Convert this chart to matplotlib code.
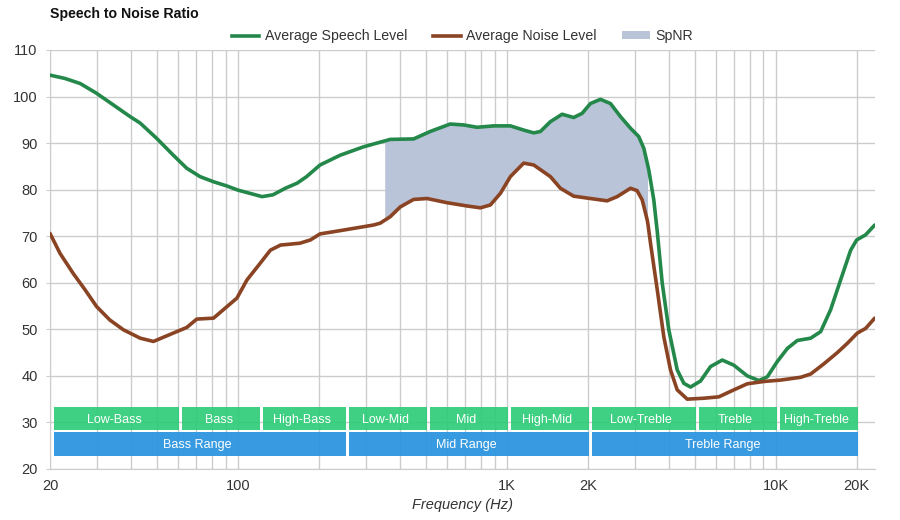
import numpy as np
import matplotlib
matplotlib.use("Agg")
import matplotlib.pyplot as plt
from matplotlib.lines import Line2D
from matplotlib.patches import Patch
from matplotlib.ticker import FixedLocator, NullFormatter

plt.rcParams['font.family'] = ['Liberation Sans', 'DejaVu Sans']

# speech level (Hz, dB)
speech_f = [20, 22.7, 25.9, 29.8, 34.4, 39.7, 43.3, 49.9, 57.5, 64.5, 72.3, 81.1, 90.9,
            100, 111, 123, 135, 150, 166, 180, 202, 240, 293, 338, 353, 368.6, 450,
            519, 616, 691, 775, 893, 1031, 1155, 1259, 1333, 1452, 1605, 1773, 1906,
            2046, 2229, 2429, 2646, 2883, 3095, 3231, 3350, 3373, 3520, 3626, 3784,
            4003, 4301, 4553, 4822, 5253, 5722, 6326, 6986, 7838, 8658, 9305, 10140,
            11050, 12030, 13490, 14690, 16000, 17430, 19000, 20000, 21600, 23340]
speech_db = [104.6, 103.9, 102.8, 100.7, 98.2, 95.7, 94.3, 91.0, 87.4, 84.6, 82.8, 81.7, 80.8,
             79.9, 79.2, 78.5, 78.9, 80.3, 81.4, 82.8, 85.3, 87.4, 89.2, 90.2, 90.5, 90.8, 90.9,
             92.5, 94.1, 93.9, 93.4, 93.7, 93.7, 92.8, 92.2, 92.5, 94.6, 96.2, 95.5, 96.4,
             98.5, 99.4, 98.5, 95.7, 93.2, 91.4, 88.9, 85.0, 84.2, 77.8, 71.0, 59.9,
             49.9, 41.3, 38.4, 37.6, 38.9, 42.0, 43.4, 42.3, 40.0, 39.0, 39.8, 43.1,
             45.9, 47.6, 48.1, 49.5, 54.2, 60.6, 67.0, 69.2, 70.3, 72.4]

# noise level
noise_f = [20, 21.8, 24.4, 27.0, 29.8, 33.4, 37.5, 43.3, 48.5, 57.5, 64.5, 70.3, 81.1,
           99.1, 108, 121, 132, 144, 170, 186, 202, 240, 319, 338, 353, 368.6, 401.6,
           450, 505, 599, 711, 797, 868, 946, 1031, 1155, 1259, 1333, 1452, 1582, 1773,
           2046, 2360, 2572, 2883, 3051, 3187, 3327, 3350, 3422, 3626, 3835, 4061, 4301,
           4688, 5403, 6143, 6986, 7838, 9036, 10430, 12380, 13490, 15110, 16950, 18470,
           20120, 21600, 23340]
noise_db = [70.6, 66.3, 62.0, 58.5, 54.9, 52.0, 49.9, 48.1, 47.4, 49.2, 50.4, 52.2, 52.4,
            56.7, 60.6, 64.2, 67.0, 68.1, 68.5, 69.2, 70.5, 71.2, 72.4, 72.8, 73.5, 74.2, 76.3,
            77.9, 78.1, 77.2, 76.5, 76.1, 76.7, 79.2, 82.8, 85.7, 85.3, 84.3, 82.8, 80.3, 78.6,
            78.1, 77.6, 78.5, 80.3, 79.8, 77.8, 73.5, 72.5, 68.5, 58.5, 48.4, 41.3, 37.0,
            35.0, 35.2, 35.5, 37.0, 38.3, 38.8, 39.1, 39.7, 40.4, 42.6, 45.0, 47.0,
            49.2, 50.2, 52.4]

spnr_range = (353, 3350)

bands = ['Low-Bass', 'Bass', 'High-Bass', 'Low-Mid', 'Mid', 'High-Mid',
         'Low-Treble', 'Treble', 'High-Treble']
band_edges = [20, 60, 120, 250, 500, 1000, 2000, 5000, 10000, 20000]
ranges = ['Bass Range', 'Mid Range', 'Treble Range']
range_edges = [20, 250, 2000, 20000]

xtick_vals = [20, 100, 1000, 2000, 10000, 20000]
xtick_labels = ['20', '100', '1K', '2K', '10K', '20K']
yticks = list(range(20, 111, 10))

GREEN = '#23884a'
BROWN = '#8a4424'
FILL = '#b9c4d9'
BAND_G = '#2ecc78'
BAND_B = '#2d96e0'
GRID = '#cccccc'

fig = plt.figure(figsize=(9, 5.2), dpi=100)
ax = fig.add_axes([50/900, 1 - 469/520, 825/900, 419/520])
ax.set_xscale('log')
ax.set_xlim(20, 23400)
ax.set_ylim(20, 110)

# grid lines at every 1-9 multiple up to 20K
minor = [m * 10**e for e in range(1, 5) for m in range(1, 10) if 20 <= m * 10**e <= 20000]
ax.xaxis.set_major_locator(FixedLocator(xtick_vals))
ax.set_xticklabels(xtick_labels)
ax.xaxis.set_minor_locator(FixedLocator(minor))
ax.xaxis.set_minor_formatter(NullFormatter())
ax.set_yticks(yticks)
ax.grid(True, which='both', axis='x', color=GRID, lw=1)
ax.grid(True, axis='y', color=GRID, lw=1)
ax.set_axisbelow(True)
for s in ['top', 'right']:
    ax.spines[s].set_visible(False)
for s in ['left', 'bottom']:
    ax.spines[s].set_color(GRID)
ax.tick_params(axis='both', which='both', length=0, labelsize=10.5, colors='#333333', pad=7)
ax.tick_params(axis='y', length=3, color=GRID, pad=6)

# SpNR fill polygon built from the data points in range
sf = np.array(speech_f); sd = np.array(speech_db)
nf = np.array(noise_f); nd = np.array(noise_db)
ms = (sf >= spnr_range[0]) & (sf <= spnr_range[1])
mn = (nf >= spnr_range[0]) & (nf <= spnr_range[1])
px = np.concatenate([sf[ms], nf[mn][::-1]])
py = np.concatenate([sd[ms], nd[mn][::-1]])
ax.fill(px, py, color=FILL, lw=0, zorder=2)

# frequency band boxes
for i, name in enumerate(bands):
    a, b = band_edges[i], band_edges[i + 1]
    ax.bar(a * 1.033, 5.0, width=b * 1.008 - a * 1.033, bottom=28.35, align='edge',
           color=BAND_G, alpha=0.92, lw=0, zorder=3)
    ax.text(np.sqrt(a * b), 30.85, name, color='white', fontsize=9,
            ha='center', va='center_baseline', zorder=4)
for i, name in enumerate(ranges):
    a, b = range_edges[i], range_edges[i + 1]
    ax.bar(a * 1.033, 5.2, width=b * 1.008 - a * 1.033, bottom=22.8, align='edge',
           color=BAND_B, alpha=0.95, lw=0, zorder=3)
    ax.text(np.sqrt(a * b), 25.4, name, color='white', fontsize=9,
            ha='center', va='center_baseline', zorder=4)

ax.plot(speech_f, speech_db, color=GREEN, lw=2.6, zorder=5,
        solid_joinstyle='round', solid_capstyle='round')
ax.plot(noise_f, noise_db, color=BROWN, lw=2.6, zorder=5,
        solid_joinstyle='round', solid_capstyle='round')

handles = [Line2D([], [], color=GREEN, lw=2.6),
           Line2D([], [], color=BROWN, lw=2.6),
           Patch(facecolor=FILL, edgecolor='none')]
ax.legend(handles, ['Average Speech Level', 'Average Noise Level', 'SpNR'],
          loc='center', bbox_to_anchor=(0.5, 1.033), ncol=3, frameon=False,
          fontsize=10.2, handlelength=1.95, handleheight=0.55, columnspacing=1.8,
          handletextpad=0.4, labelcolor='#333333')

fig.text(50/900, 1 - 14/520, 'Speech to Noise Ratio', fontsize=10.2,
         fontweight='bold', ha='left', va='center', color='#111111')
ax.set_xlabel('Frequency (Hz)', fontsize=10.5, style='italic', color='#333333', labelpad=4)

fig.savefig('out.png', dpi=100)
